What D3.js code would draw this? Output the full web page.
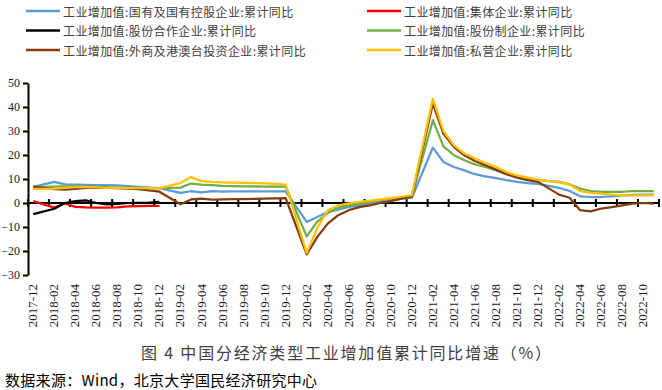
<!DOCTYPE html>
<html>
<head>
<meta charset="utf-8">
<script src="https://cdn.jsdelivr.net/npm/d3@7"></script>
<style>
  body { margin: 0; background: #fff; }
  svg { display: block; }
</style>
</head>
<body>
<svg id="chart" width="662" height="390"></svg>
<script>
// months 2017-12 .. 2022-11 (January has no cumulative value)
let months = []
for (let y = 2017; y <= 2022; y++) {
  for (let m = 1; m <= 12; m++) {
    let key = y + "-" + (m < 10 ? "0" + m : m)
    if (key >= "2017-12" && key <= "2022-11") months.push(key)
  }
}

let yTicks = [-30, -20, -10, 0, 10, 20, 30, 40, 50]

let seriesNames = [
  "工业增加值:国有及国有控股企业:累计同比",
  "工业增加值:集体企业:累计同比",
  "工业增加值:股份合作企业:累计同比",
  "工业增加值:股份制企业:累计同比",
  "工业增加值:外商及港澳台投资企业:累计同比",
  "工业增加值:私营企业:累计同比"
]

let soeValues = [
  6.7, null, 8.8, 7.8, 7.7, 7.6, 7.5, 7.4, 7.3, 7.0, 6.7, 6.4, 6.2,
  null, 4.2, 4.9, 4.4, 4.9, 4.7, 4.8, 4.8, 4.8, 4.8, 4.8, 4.8,
  null, -7.9, -5.8, -3.8, -2.8, -1.6, -1.0, -0.3, 0.4, 1.1, 1.8, 2.2,
  null, 23.1, 17.1, 15.0, 13.6, 12.0, 11.1, 10.4, 9.5, 8.8, 8.3, 8.0,
  null, 6.3, 5.0, 2.8, 2.5, 2.5, 2.8, 3.2, 3.4, 3.5, 3.5
]
let collectiveValues = [
  0.8, null, -1.9, -0.2, -1.6, -1.8, -1.9, -1.9, -1.8, -1.4, -1.3, -1.2, -1.2
]
let coopValues = [
  -4.6, null, -2.4, 0.0, 0.8, 1.1, 0.0, -0.6, -0.4, 0.0, 0.1, 0.2, 0.5
]
let shareValues = [
  6.6, null, 6.8, 6.9, 6.9, 6.7, 6.7, 6.5, 6.4, 6.4, 6.3, 6.3, 6.2,
  null, 6.4, 8.1, 7.7, 7.4, 7.1, 7.0, 6.9, 6.9, 6.8, 6.8, 6.8,
  null, -13.9, -7.9, -4.2, -1.9, -1.0, -0.3, 0.4, 1.1, 1.8, 2.2, 2.9,
  null, 34.5, 23.6, 19.9, 17.8, 16.1, 15.0, 13.6, 12.0, 11.1, 10.1, 9.5,
  null, 8.8, 7.8, 6.0, 5.0, 4.6, 4.6, 4.6, 5.0, 5.0, 5.0
]
let foreignValues = [
  6.8, null, 5.8, 5.6, 5.9, 6.3, 6.3, 6.3, 6.2, 6.0, 5.8, 5.3, 4.7,
  null, -0.5, 1.5, 1.8, 1.4, 1.5, 1.6, 1.6, 1.7, 1.8, 1.9, 2.0,
  null, -21.4, -14.2, -8.6, -5.1, -3.0, -1.7, -1.0, 0.0, 0.8, 1.8, 2.8,
  null, 41.4, 28.9, 23.3, 19.9, 17.5, 15.7, 13.9, 12.0, 10.6, 9.5, 8.8,
  null, 3.5, 2.2, -3.0, -3.5, -2.3, -1.7, -1.0, -0.3, 0.0, -0.3
]
let privateValues = [
  5.9, null, 6.0, 6.3, 6.6, 6.6, 6.5, 6.3, 6.3, 6.2, 6.2, 6.2, 6.2,
  null, 8.3, 10.8, 9.1, 8.8, 8.6, 8.5, 8.4, 8.3, 8.2, 8.0, 7.7,
  null, -20.8, -10.5, -3.0, -1.0, -0.2, 0.5, 1.0, 1.5, 2.0, 2.6, 3.3,
  null, 43.5, 30.0, 24.0, 20.6, 18.5, 16.7, 15.0, 12.9, 11.5, 10.6, 9.7,
  null, 8.6, 7.8, 5.0, 4.2, 3.9, 3.5, 3.2, 3.2, 3.2, 3.2
]

let seriesValues = [soeValues, collectiveValues, coopValues, shareValues, foreignValues, privateValues]
let seriesColors = ["#5B9BD5", "#FF0000", "#000000", "#70AD47", "#843C0C", "#FFC000"]

let svg = d3.select("#chart")

let x = d3.scaleBand()
  .domain(months)
  .range([28, 659])

let y = d3.scaleLinear()
  .domain([-30, 50])
  .range([275, 83])

let labelMonths = months.filter((m, i) => i % 2 == 0)

// y axis
let yAxis = svg.append("g")
  .attr("transform", "translate(28,0)")
  .call(d3.axisLeft(y).tickValues(yTicks).tickSize(5).tickSizeOuter(0))
yAxis.select(".domain").attr("stroke", "#000").attr("stroke-width", 2)
yAxis.selectAll(".tick line").attr("stroke", "#000").attr("stroke-width", 2)
yAxis.selectAll(".tick text")
  .attr("x", -8)
  .style("font-family", "'Liberation Serif', 'Times New Roman', serif")
  .style("font-size", "12px")
  .attr("fill", "#1a1a1a")

// zero line with tick marks every two months
svg.append("line")
  .attr("x1", x.range()[0])
  .attr("x2", x.range()[1])
  .attr("y1", y(0))
  .attr("y2", y(0))
  .attr("stroke", "#000")
  .attr("stroke-width", 2)

let tickXs = labelMonths.map(m => x(m)).concat([x.range()[1]])
svg.selectAll(".zeroTick")
  .data(tickXs)
  .enter()
  .append("line")
  .attr("x1", d => d)
  .attr("x2", d => d)
  .attr("y1", y(0) - 4)
  .attr("y2", y(0) + 4)
  .attr("stroke", "#000")
  .attr("stroke-width", 2)

// month labels at the bottom
svg.selectAll(".monthLabel")
  .data(labelMonths)
  .enter()
  .append("text")
  .attr("transform", d => "translate(" + (x(d) + x.bandwidth() / 2 + 4) + ",284) rotate(-90)")
  .attr("text-anchor", "end")
  .style("font-family", "'Liberation Serif', 'Times New Roman', serif")
  .style("font-size", "13px")
  .attr("fill", "#1a1a1a")
  .text(d => d)

// series lines (Excel-style: gaps are bridged)
let line = d3.line()
  .x(d => x(d.month) + x.bandwidth() / 2)
  .y(d => y(d.value))

seriesValues.forEach((vals, s) => {
  let pts = vals
    .map((v, i) => ({ month: months[i], value: v }))
    .filter(d => d.value != null)
  svg.append("path")
    .datum(pts)
    .attr("d", line)
    .attr("fill", "none")
    .attr("stroke", seriesColors[s])
    .attr("stroke-width", 2.25)
    .attr("stroke-linejoin", "round")
})

// legend, two columns
let legendX = [26, 367]
let legendY = [11, 30.5, 50]
seriesNames.forEach((name, s) => {
  let lx = legendX[s % 2]
  let ly = legendY[Math.floor(s / 2)]
  svg.append("line")
    .attr("x1", lx)
    .attr("x2", lx + 34)
    .attr("y1", ly)
    .attr("y2", ly)
    .attr("stroke", seriesColors[s])
    .attr("stroke-width", 2.5)
  svg.append("text")
    .attr("x", lx + 37)
    .attr("y", ly)
    .attr("dominant-baseline", "central")
    .style("font-family", "'Noto Sans CJK SC', sans-serif")
    .style("font-size", "12px")
    .style("letter-spacing", "0.4px")
    .attr("fill", "#404040")
    .text(name)
})

// caption and source
svg.append("text")
  .attr("x", 347)
  .attr("y", 352)
  .attr("text-anchor", "middle")
  .attr("dominant-baseline", "central")
  .style("font-family", "'Noto Sans CJK SC', sans-serif")
  .style("font-size", "16px")
  .style("letter-spacing", "1.8px")
  .attr("fill", "#404040")
  .text("图 4 中国分经济类型工业增加值累计同比增速（%）")

svg.append("text")
  .attr("x", 5)
  .attr("y", 379)
  .attr("dominant-baseline", "central")
  .style("font-family", "'Noto Sans CJK SC', sans-serif")
  .style("font-size", "15px")
  .style("letter-spacing", "0.3px")
  .attr("fill", "#000")
  .text("数据来源：Wind，北京大学国民经济研究中心")
</script>
</body>
</html>
